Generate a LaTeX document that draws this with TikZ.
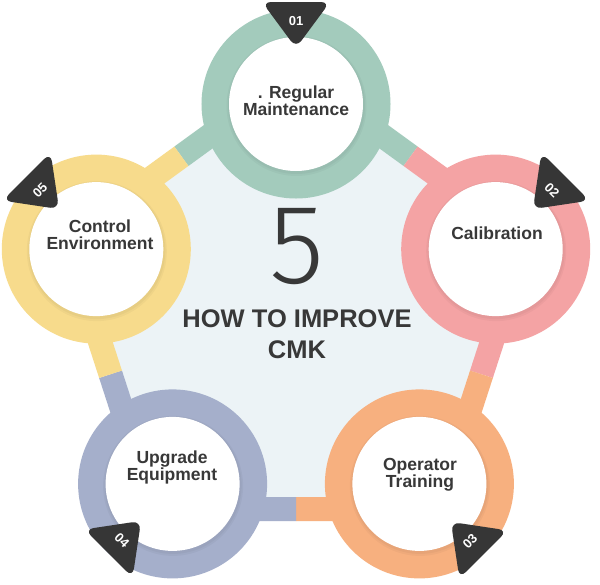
\documentclass[tikz,border=0pt]{standalone}
\usepackage{fontspec}
\setmainfont{Liberation Sans}
\newfontfamily\fivefont{Fira Sans Light}
\usetikzlibrary{calc}
\definecolor{cgreen}{HTML}{A3CBBC}
\definecolor{cpink}{HTML}{F4A3A4}
\definecolor{corange}{HTML}{F7B07F}
\definecolor{cblue}{HTML}{A5AFCB}
\definecolor{cyellow}{HTML}{F7DB8C}
\definecolor{cfill}{HTML}{ECF3F6}
\definecolor{cdark}{HTML}{363636}
\definecolor{ctext}{HTML}{383838}
\begin{document}
\begin{tikzpicture}[x=1pt,y=-1pt,
  band/.style={line width=24pt, line cap=butt, line join=miter},
  ring/.style={line width=28pt},
  circ/.style={circle, fill=white, minimum size=134pt, inner sep=0pt},
  shade1/.style={fill=black, opacity=0.03},
  lbl/.style={font=\bfseries\fontsize{17.5}{17}\selectfont, text=ctext, align=center, inner sep=0pt},
  badgeshape/.style={fill=cdark, rounded corners=9pt},
  num/.style={font=\bfseries\fontsize{13}{13}\selectfont, text=white, inner sep=0pt}]
\useasboundingbox (0,0) rectangle (600,584);
\fill[white] (0,0) rectangle (600,584);
% circle centres
\coordinate (V1) at (296,104);
\coordinate (V2) at (495.7,249.1);
\coordinate (V3) at (419.4,483.9);
\coordinate (V4) at (172.6,483.9);
\coordinate (V5) at (96.3,249.1);
% band pentagon
\coordinate (B1) at (296,73);
\coordinate (B2) at (525.2,239.5);
\coordinate (B3) at (437.7,509);
\coordinate (B4) at (154.3,509);
\coordinate (B5) at (66.8,239.5);
\fill[cfill] (B1) -- (B2) -- (B3) -- (B4) -- (B5) -- cycle;
\coordinate (M12) at (410.6,156.25);
\coordinate (M23) at (481.45,374.25);
\coordinate (M34) at (296,509);
\coordinate (M45) at (110.55,374.25);
\coordinate (M51) at (181.4,156.25);
\draw[band, cgreen] (M51) -- (B1) -- (M12);
\draw[band, cpink] (M12) -- (B2) -- (M23);
\draw[band, corange] (M23) -- (B3) -- (M34);
\draw[band, cblue] (M34) -- (B4) -- (M45);
\draw[band, cyellow] (M45) -- (B5) -- (M51);
% rings
\draw[ring, cgreen] (V1) circle[radius=80.5pt];
\draw[ring, cpink] (V2) circle[radius=80.5pt];
\draw[ring, corange] (V3) circle[radius=80.5pt];
\draw[ring, cblue] (V4) circle[radius=80.5pt];
\draw[ring, cyellow] (V5) circle[radius=80.5pt];
% soft shadows
\foreach \v in {V1,V2,V3,V4,V5}{
  \fill[shade1] ($(\v)+(0.5,2)$) circle[radius=70pt];
  \fill[shade1] ($(\v)+(0.5,1.5)$) circle[radius=68.5pt];
}
% white circles
\node[circ] (c1) at (V1) {};
\node[circ] (c2) at (V2) {};
\node[circ] (c3) at (V3) {};
\node[circ] (c4) at (V4) {};
\node[circ] (c5) at (V5) {};
% labels
\node[lbl] (t1) at (296,101) {. Regular\\Maintenance};
\node[lbl] (t2) at (497,233.5) {Calibration};
\node[lbl] (t3) at (420,475) {Operator\\Training};
\node[lbl] (t4) at (172,467) {Upgrade\\Equipment};
\node[lbl] (t5) at (100,235) {Control\\Environment};
% badges
\begin{scope}[shift={(296,21)}]
  \fill[badgeshape] (-34,-19) -- (34,-19) -- (0,27) -- cycle;
\end{scope}
\begin{scope}[shift={(552,190)}, rotate=-45]
  \fill[badgeshape] (-34,-19) -- (34,-19) -- (0,27) -- cycle;
\end{scope}
\begin{scope}[shift={(470,541)}, rotate=-135]
  \fill[badgeshape] (-34,-19) -- (34,-19) -- (0,27) -- cycle;
\end{scope}
\begin{scope}[shift={(122,540)}, rotate=135]
  \fill[badgeshape] (-34,-19) -- (34,-19) -- (0,27) -- cycle;
\end{scope}
\begin{scope}[shift={(40,190)}, rotate=45]
  \fill[badgeshape] (-34,-19) -- (34,-19) -- (0,27) -- cycle;
\end{scope}
\node[num] (n1) at (296,21) {01};
\node[num, rotate=-45] (n2) at (552,190) {02};
\node[num, rotate=45] (n3) at (470,541) {03};
\node[num, rotate=-45] (n4) at (122,540) {04};
\node[num, rotate=45] (n5) at (40,190) {05};
% centre
\node[font=\fivefont\fontsize{113}{113}\selectfont, text=ctext, anchor=base, inner sep=0pt] (five) at (297,283) {5};
\node[font=\bfseries\fontsize{25.5}{25.5}\selectfont, text=ctext, anchor=base, inner sep=0pt] (h1) at (297,327) {HOW TO IMPROVE};
\node[font=\bfseries\fontsize{25.5}{25.5}\selectfont, text=ctext, anchor=base, inner sep=0pt] (h2) at (297,358) {CMK};
\end{tikzpicture}
\end{document}
